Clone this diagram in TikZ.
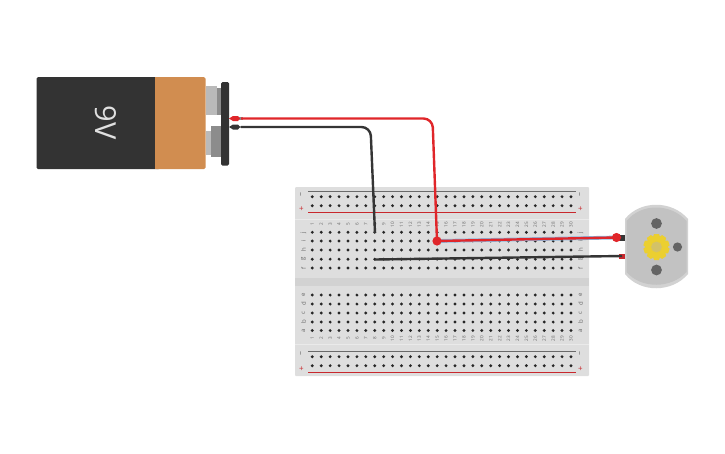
\documentclass[tikz,border=0pt]{standalone}
\usepackage{fontspec}
\setmainfont{Open Sans}
\definecolor{bboard}{HTML}{DEDEDE}
\definecolor{bband}{HTML}{D2D2D2}
\definecolor{bline}{HTML}{EAEAEA}
\definecolor{holec}{HTML}{262626}
\definecolor{railred}{HTML}{C8282D}
\definecolor{raildark}{HTML}{6A6A6A}
\definecolor{labelc}{HTML}{666666}
\definecolor{batdark}{HTML}{333333}
\definecolor{batorange}{HTML}{D18D50}
\definecolor{wirered}{HTML}{E0262A}
\definecolor{wireblack}{HTML}{353535}
\definecolor{wireblue}{HTML}{8DB8DC}
\definecolor{motorc}{HTML}{C2C2C2}
\definecolor{motoredge}{HTML}{D2D2D2}
\definecolor{motorhole}{HTML}{646464}
\definecolor{gearc}{HTML}{EBCF30}
\definecolor{gearcen}{HTML}{D3C268}
\tikzset{
  x=1pt,y=-1pt,
  hole/.style={circle,fill=holec,inner sep=0pt,minimum size=3.2pt},
  numlabel/.style={rotate=90,font=\fontsize{4.6}{5}\selectfont,text=labelc,inner sep=0pt},
  letlabel/.style={rotate=90,font=\fontsize{6}{6}\selectfont,text=labelc,inner sep=0pt},
  minuslabel/.style={rotate=90,font=\fontsize{7}{7}\selectfont,text=black!70,inner sep=0pt},
  pluslabel/.style={font=\fontsize{8}{8}\selectfont,text=railred,inner sep=0pt},
  rwire/.style={draw=wirered,line width=2.4pt,rounded corners=9pt},
  kwire/.style={draw=wireblack,line width=2.4pt,rounded corners=9pt},
}
\begin{document}
\begin{tikzpicture}
\useasboundingbox (0,0) rectangle (725,453);
% battery
\fill[fill=batdark,rounded corners=1.5pt] (36.5,77) rectangle (160,169);
\fill[fill=batorange,rounded corners=1.5pt] (155,77) rectangle (205.5,169);
\fill[batorange] (155,77) rectangle (165,169);
\fill[fill=black!27] (206,86) rectangle (217,115);
\fill[fill=black!45] (217,88) rectangle (221,115);
\fill[fill=black!27] (206,131) rectangle (211,155);
\fill[fill=black!45] (211,126) rectangle (221,157);
\fill[fill=batdark,rounded corners=1.5pt] (221,82) rectangle (229,165.5);
\node[rotate=-90,text=black!12,font=\fontsize{29}{29}\selectfont,inner sep=0pt] (volt) at (105.5,122.5) {9V};
% breadboard
\fill[fill=bboard,rounded corners=1pt] (295,187) rectangle (589,376);
\fill[fill=bband] (295,278) rectangle (589,285.5);
\draw[bline,line width=.7pt] (295,219.3) -- (589,219.3);
\draw[bline,line width=.7pt] (295,344.3) -- (589,344.3);
\draw[raildark,line width=1pt] (308,191) -- (576,191);
\draw[railred,line width=.8pt] (308,212) -- (576,212);
\draw[raildark,line width=1pt] (308,351) -- (576,351);
\draw[railred,line width=.8pt] (308,372) -- (576,372);
\foreach \yy in {196.7,205.7,232.3,241,250,259.2,268,295,304,313,322,330.5,356.7,365.7}
  \foreach \c in {1,...,30}
    \node[hole] at ({312.3+(\c-1)*8.92},\yy) {};
\foreach \c in {1,...,30}{
  \node[numlabel] at ({312.3+(\c-1)*8.92},224.5) {\c};
  \node[numlabel] at ({312.3+(\c-1)*8.92},338.5) {\c};
}
\foreach \l/\yy in {j/232.3,i/241,h/250,g/259.2,f/268,e/295,d/304,c/313,b/322,a/330.5}{
  \node[letlabel] at (303.5,\yy) {\l};
  \node[letlabel] at (580.5,\yy) {\l};
}
\foreach \xx in {301.5,580.5}{
  \node[minuslabel] at (\xx,194) {−};
  \node[pluslabel] at (\xx,209.5) {+};
  \node[minuslabel] at (\xx,353.5) {−};
  \node[pluslabel] at (\xx,369) {+};
}
% motor
\path[fill=motoredge] (625,219) .. controls (640,200) and (672,200) .. (688,219) -- (688,274) .. controls (672,293) and (640,293) .. (625,274) -- cycle;
\path[fill=motorc] (626.5,221) .. controls (641,203) and (671,203) .. (686.5,221) -- (686.5,272) .. controls (671,289) and (641,289) .. (626.5,272) -- cycle;
\fill[motorhole] (656.5,223.5) circle (5.4);
\fill[motorhole] (656.5,270) circle (5.4);
\fill[motorhole] (677.5,247) circle (4.6);
\foreach \a in {0,36,...,324}
  \fill[gearc,rotate around={\a:(656.5,247)}] (654,234) -- (659,234) -- (661,240) -- (652,240) -- cycle;
\fill[gearc] (656.5,247) circle (9.4);
\fill[gearcen] (656.5,247) circle (5.4);
% wires
\coordinate (batred) at (241,118.5);
\coordinate (batblack) at (241,127);
\coordinate (bbred) at (437,241);
\coordinate (bbblack) at (375,233);
\coordinate (bbblack2) at (375,259.5);
\coordinate (mred) at (616.5,237.5);
\coordinate (mblack) at (622,256);
\fill[black!45] (238,117.2) rectangle (243,119.8);
\fill[black!45] (238,125.7) rectangle (243,128.3);
\fill[wirered] (229,118.5) -- (233,116) -- (238,116) -- (240,118.5) -- (238,121) -- (233,121) -- cycle;
\fill[wireblack] (229,127) -- (233,124.5) -- (238,124.5) -- (240,127) -- (238,129.5) -- (233,129.5) -- cycle;
\draw[rwire] (batred) -- (432.5,118.5) -- (bbred);
\draw[kwire] (batblack) -- (370.5,127) -- (bbblack);
\fill[wireblack] (620,235) rectangle (625,241);
\fill[railred] (618.5,253.5) rectangle (624.5,259);
\draw[wireblue,line width=3.8pt] (bbred) -- (mred);
\draw[draw=wirered,line width=2.4pt] (bbred) -- (mred);
\draw[draw=wireblack,line width=2.4pt] (bbblack2) -- (mblack);
\fill[wirered] (bbred) circle (4.6);
\fill[wirered] (mred) circle (4.6);
\end{tikzpicture}
\end{document}
